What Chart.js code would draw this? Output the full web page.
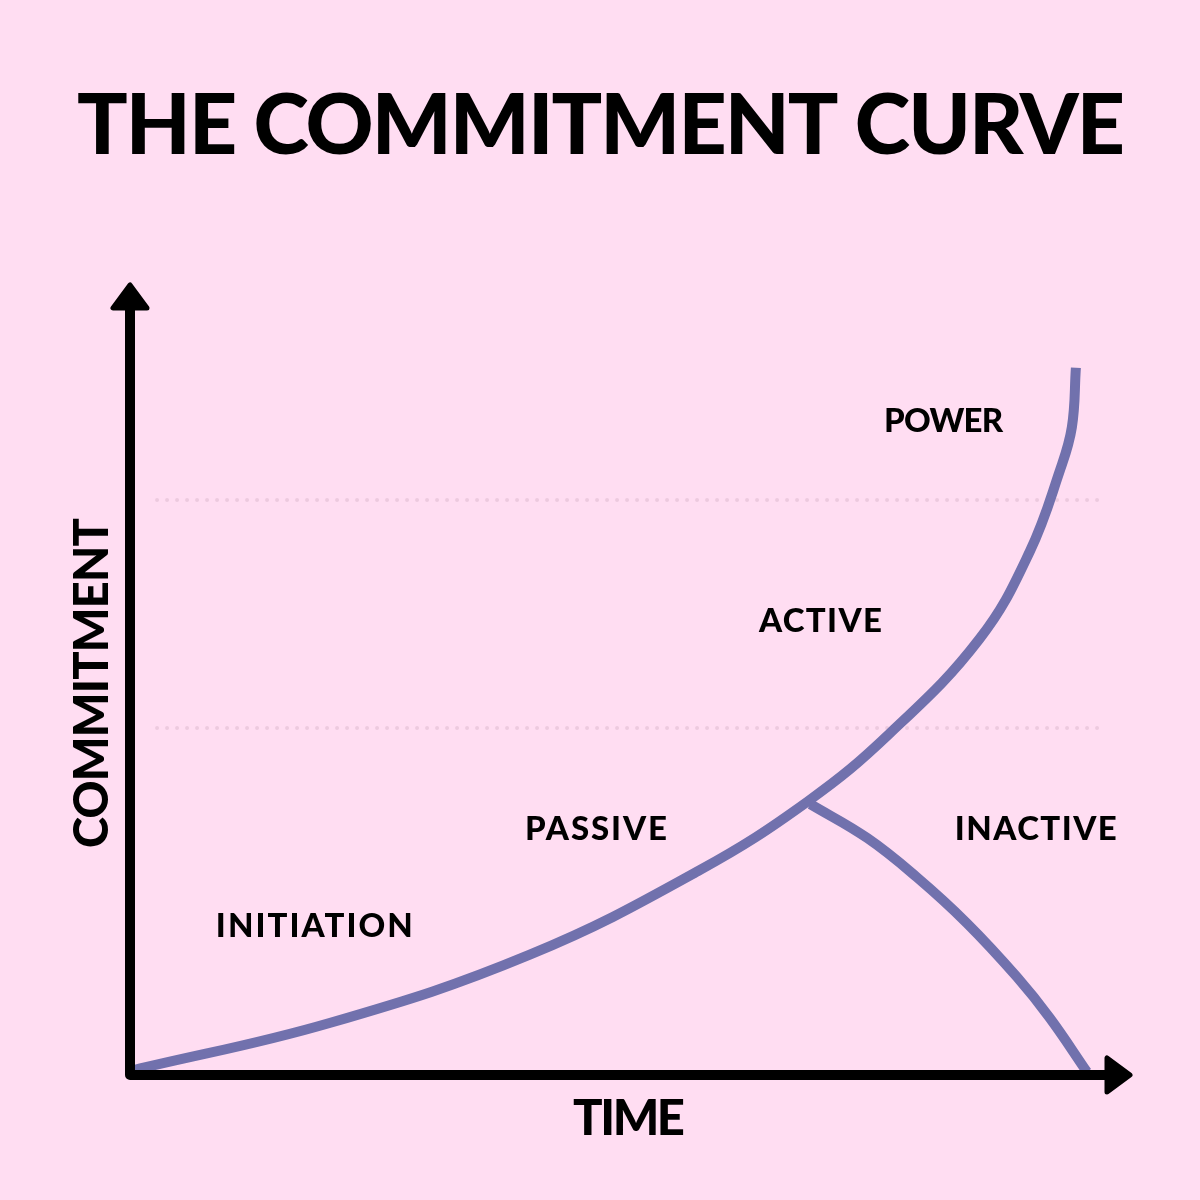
<!DOCTYPE html>
<html>
<head>
<meta charset="utf-8">
<script src="https://cdn.jsdelivr.net/npm/chart.js@4"></script>
<style>
  html, body { margin: 0; padding: 0; background: #FFDDF2; }
  canvas { display: block; }
</style>
</head>
<body>
<canvas id="curve" width="1200" height="1200"></canvas>
<script>
// data: time (0-100) vs commitment (0-100)
const mainCurve = [
    { x: 0.3, y: 0.6 }, { x: 20.0, y: 6.6 }, { x: 39.9, y: 15.2 },
    { x: 56.9, y: 25.9 }, { x: 67.7, y: 34.6 }, { x: 75.8, y: 43.1 },
    { x: 84.8, y: 55.1 }, { x: 89.8, y: 66.1 }, { x: 92.8, y: 76.3 },
    { x: 94.0, y: 81.8 }, { x: 94.4, y: 89.3 }
];
const inactiveCurve = [
    { x: 67.9, y: 34.2 }, { x: 73.6, y: 29.9 }, { x: 78.5, y: 25.0 },
    { x: 83.5, y: 19.2 }, { x: 88.5, y: 12.4 }, { x: 91.8, y: 7.2 },
    { x: 95.5, y: 0.4 }
];
const thresholds = [43.8, 72.6];
const stages = ['INITIATION', 'PASSIVE', 'ACTIVE', 'POWER', 'INACTIVE'];
const stageSpots = [[18.4, 18.9], [46.5, 31.2], [68.9, 57.4], [81.2, 82.7], [90.4, 31.2]];
const stageWidths = [197, 142, 123, 119, 162];

const BG = '#FFDDF2';
const CURVE = '#7171AD';
const FONT = 'Lato, "Open Sans", sans-serif';

function fitText(ctx, text, left, baseline, size, width) {
    ctx.font = '900 ' + size + 'px ' + FONT;
    ctx.letterSpacing = '0px';
    const w = ctx.measureText(text).width;
    const ls = (width - w) / (text.length - 1);
    ctx.letterSpacing = ls + 'px';
    ctx.textAlign = 'left';
    ctx.textBaseline = 'alphabetic';
    ctx.fillText(text, left, baseline);
}

const decor = {
    id: 'decor',
    beforeDraw(chart) {
        const { ctx, scales: { x, y } } = chart;
        ctx.save();
        ctx.fillStyle = BG;
        ctx.fillRect(0, 0, chart.width, chart.height);

        // dotted stage boundaries
        ctx.strokeStyle = '#EDCADF';
        ctx.lineWidth = 4;
        ctx.lineCap = 'round';
        ctx.setLineDash([0, 10]);
        thresholds.forEach(t => {
            const py = y.getPixelForValue(t);
            ctx.beginPath();
            ctx.moveTo(x.getPixelForValue(2.7), py);
            ctx.lineTo(x.getPixelForValue(96.8), py);
            ctx.stroke();
        });
        ctx.restore();
    },
    afterDraw(chart) {
        const { ctx, scales: { x, y } } = chart;
        const x0 = x.getPixelForValue(0), y0 = y.getPixelForValue(0);
        const xEnd = x.getPixelForValue(100), yEnd = y.getPixelForValue(100);
        ctx.save();
        ctx.strokeStyle = '#000';
        ctx.fillStyle = '#000';
        ctx.lineJoin = 'round';
        ctx.lineWidth = 10;
        ctx.beginPath();
        ctx.moveTo(x0, yEnd + 20);
        ctx.lineTo(x0, y0);
        ctx.lineTo(xEnd - 20, y0);
        ctx.stroke();

        // arrow heads
        ctx.lineWidth = 5;
        ctx.beginPath();
        ctx.moveTo(x0, yEnd + 2);
        ctx.lineTo(x0 - 17, yEnd + 25);
        ctx.lineTo(x0 + 17, yEnd + 25);
        ctx.closePath();
        ctx.fill(); ctx.stroke();
        ctx.beginPath();
        ctx.moveTo(xEnd - 2, y0);
        ctx.lineTo(xEnd - 25, y0 - 17);
        ctx.lineTo(xEnd - 25, y0 + 17);
        ctx.closePath();
        ctx.fill(); ctx.stroke();

        // stage labels
        stages.forEach((s, i) => {
            const cx = x.getPixelForValue(stageSpots[i][0]);
            const cy = y.getPixelForValue(stageSpots[i][1]);
            fitText(ctx, s, cx - stageWidths[i] / 2, cy + 12, 33, stageWidths[i]);
        });

        // title and axis titles
        fitText(ctx, 'THE COMMITMENT CURVE', 77, 154, 84, 1048);
        fitText(ctx, 'TIME', 573, 1135, 49, 112);
        ctx.save();
        ctx.translate(108, 848);
        ctx.rotate(-Math.PI / 2);
        fitText(ctx, 'COMMITMENT', 0, 0, 47, 330);
        ctx.restore();
        ctx.restore();
    }
};

new Chart(document.getElementById('curve'), {
    type: 'line',
    data: {
        datasets: [{
            label: 'Commitment',
            data: mainCurve,
            borderColor: CURVE,
            borderWidth: 10,
            pointRadius: 0,
            tension: 0.4,
            clip: false
        }, {
            label: 'Inactive',
            data: inactiveCurve,
            borderColor: CURVE,
            borderWidth: 10,
            pointRadius: 0,
            tension: 0.4,
            clip: false
        }]
    },
    options: {
        responsive: false,
        animation: false,
        devicePixelRatio: 1,
        layout: {
            padding: { left: 130, right: 68, top: 283, bottom: 125 }
        },
        scales: {
            x: { type: 'linear', min: 0, max: 100, display: false },
            y: { type: 'linear', min: 0, max: 100, display: false }
        },
        plugins: {
            legend: { display: false },
            tooltip: { enabled: false }
        }
    },
    plugins: [decor]
});
</script>
</body>
</html>
